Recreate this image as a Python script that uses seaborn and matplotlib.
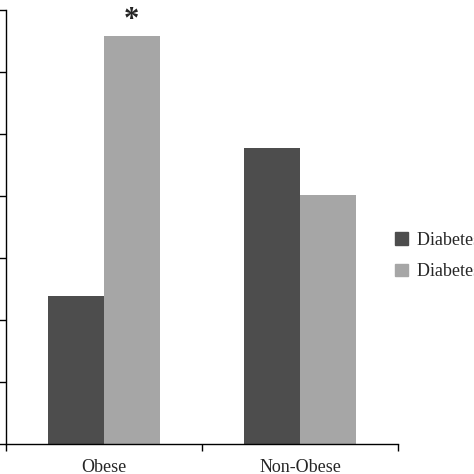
import matplotlib
matplotlib.use("Agg")
import matplotlib.pyplot as plt
import seaborn as sns
import pandas as pd

groups = ["Obese", "Non-Obese"]
series = ["Diabetes <", "Diabetes \u2265"]
dark_vals = [2.39, 4.77]
light_vals = [6.58, 4.02]

rows = []
for g, d, l in zip(groups, dark_vals, light_vals):
    rows.append({"group": g, "series": series[0], "value": d})
    rows.append({"group": g, "series": series[1], "value": l})
df = pd.DataFrame(rows)

sns.set_style("white")
plt.rcParams["font.family"] = ["Liberation Serif", "DejaVu Serif"]

fig = plt.figure(figsize=(4.74, 4.74), dpi=100)
ax = fig.add_axes([0.0127, 0.063, 0.827, 0.916])
sns.barplot(data=df, x="group", y="value", hue="series",
            palette=["#4d4d4d", "#a6a6a6"], width=0.57, ax=ax,
            saturation=1, linewidth=0)

ax.set_xlim(-0.5, 1.5)
ax.set_ylim(0, 7)
ax.set_yticks(range(8))
ax.set_yticklabels([])
ax.tick_params(axis="y", left=True, length=5, width=1, color="black", direction="out")
ax.set_xticks([-0.5, 0.5, 1.5], minor=True)
ax.tick_params(axis="x", which="minor", bottom=True, length=5, width=1, color="black")
ax.tick_params(axis="x", which="major", length=0, labelsize=13, pad=11)
ax.set_xlabel("")
ax.set_ylabel("")
for s in ["top", "right"]:
    ax.spines[s].set_visible(False)
for s in ["left", "bottom"]:
    ax.spines[s].set_color("black")
    ax.spines[s].set_linewidth(1)

ax.text(0.142, light_vals[0] + 0.02, "*", ha="center", va="bottom",
        fontsize=22, fontweight="bold")

ax.get_legend().remove()
handles = [plt.Rectangle((0, 0), 1, 1, color=c) for c in ["#4d4d4d", "#a6a6a6"]]
fig.legend(handles, series, loc="upper left", bbox_to_anchor=(0.80, 0.545),
           frameon=False, fontsize=13, handlelength=0.7, handleheight=0.7,
           labelspacing=0.8, handletextpad=0.5)

fig.savefig("out.png", dpi=100)
